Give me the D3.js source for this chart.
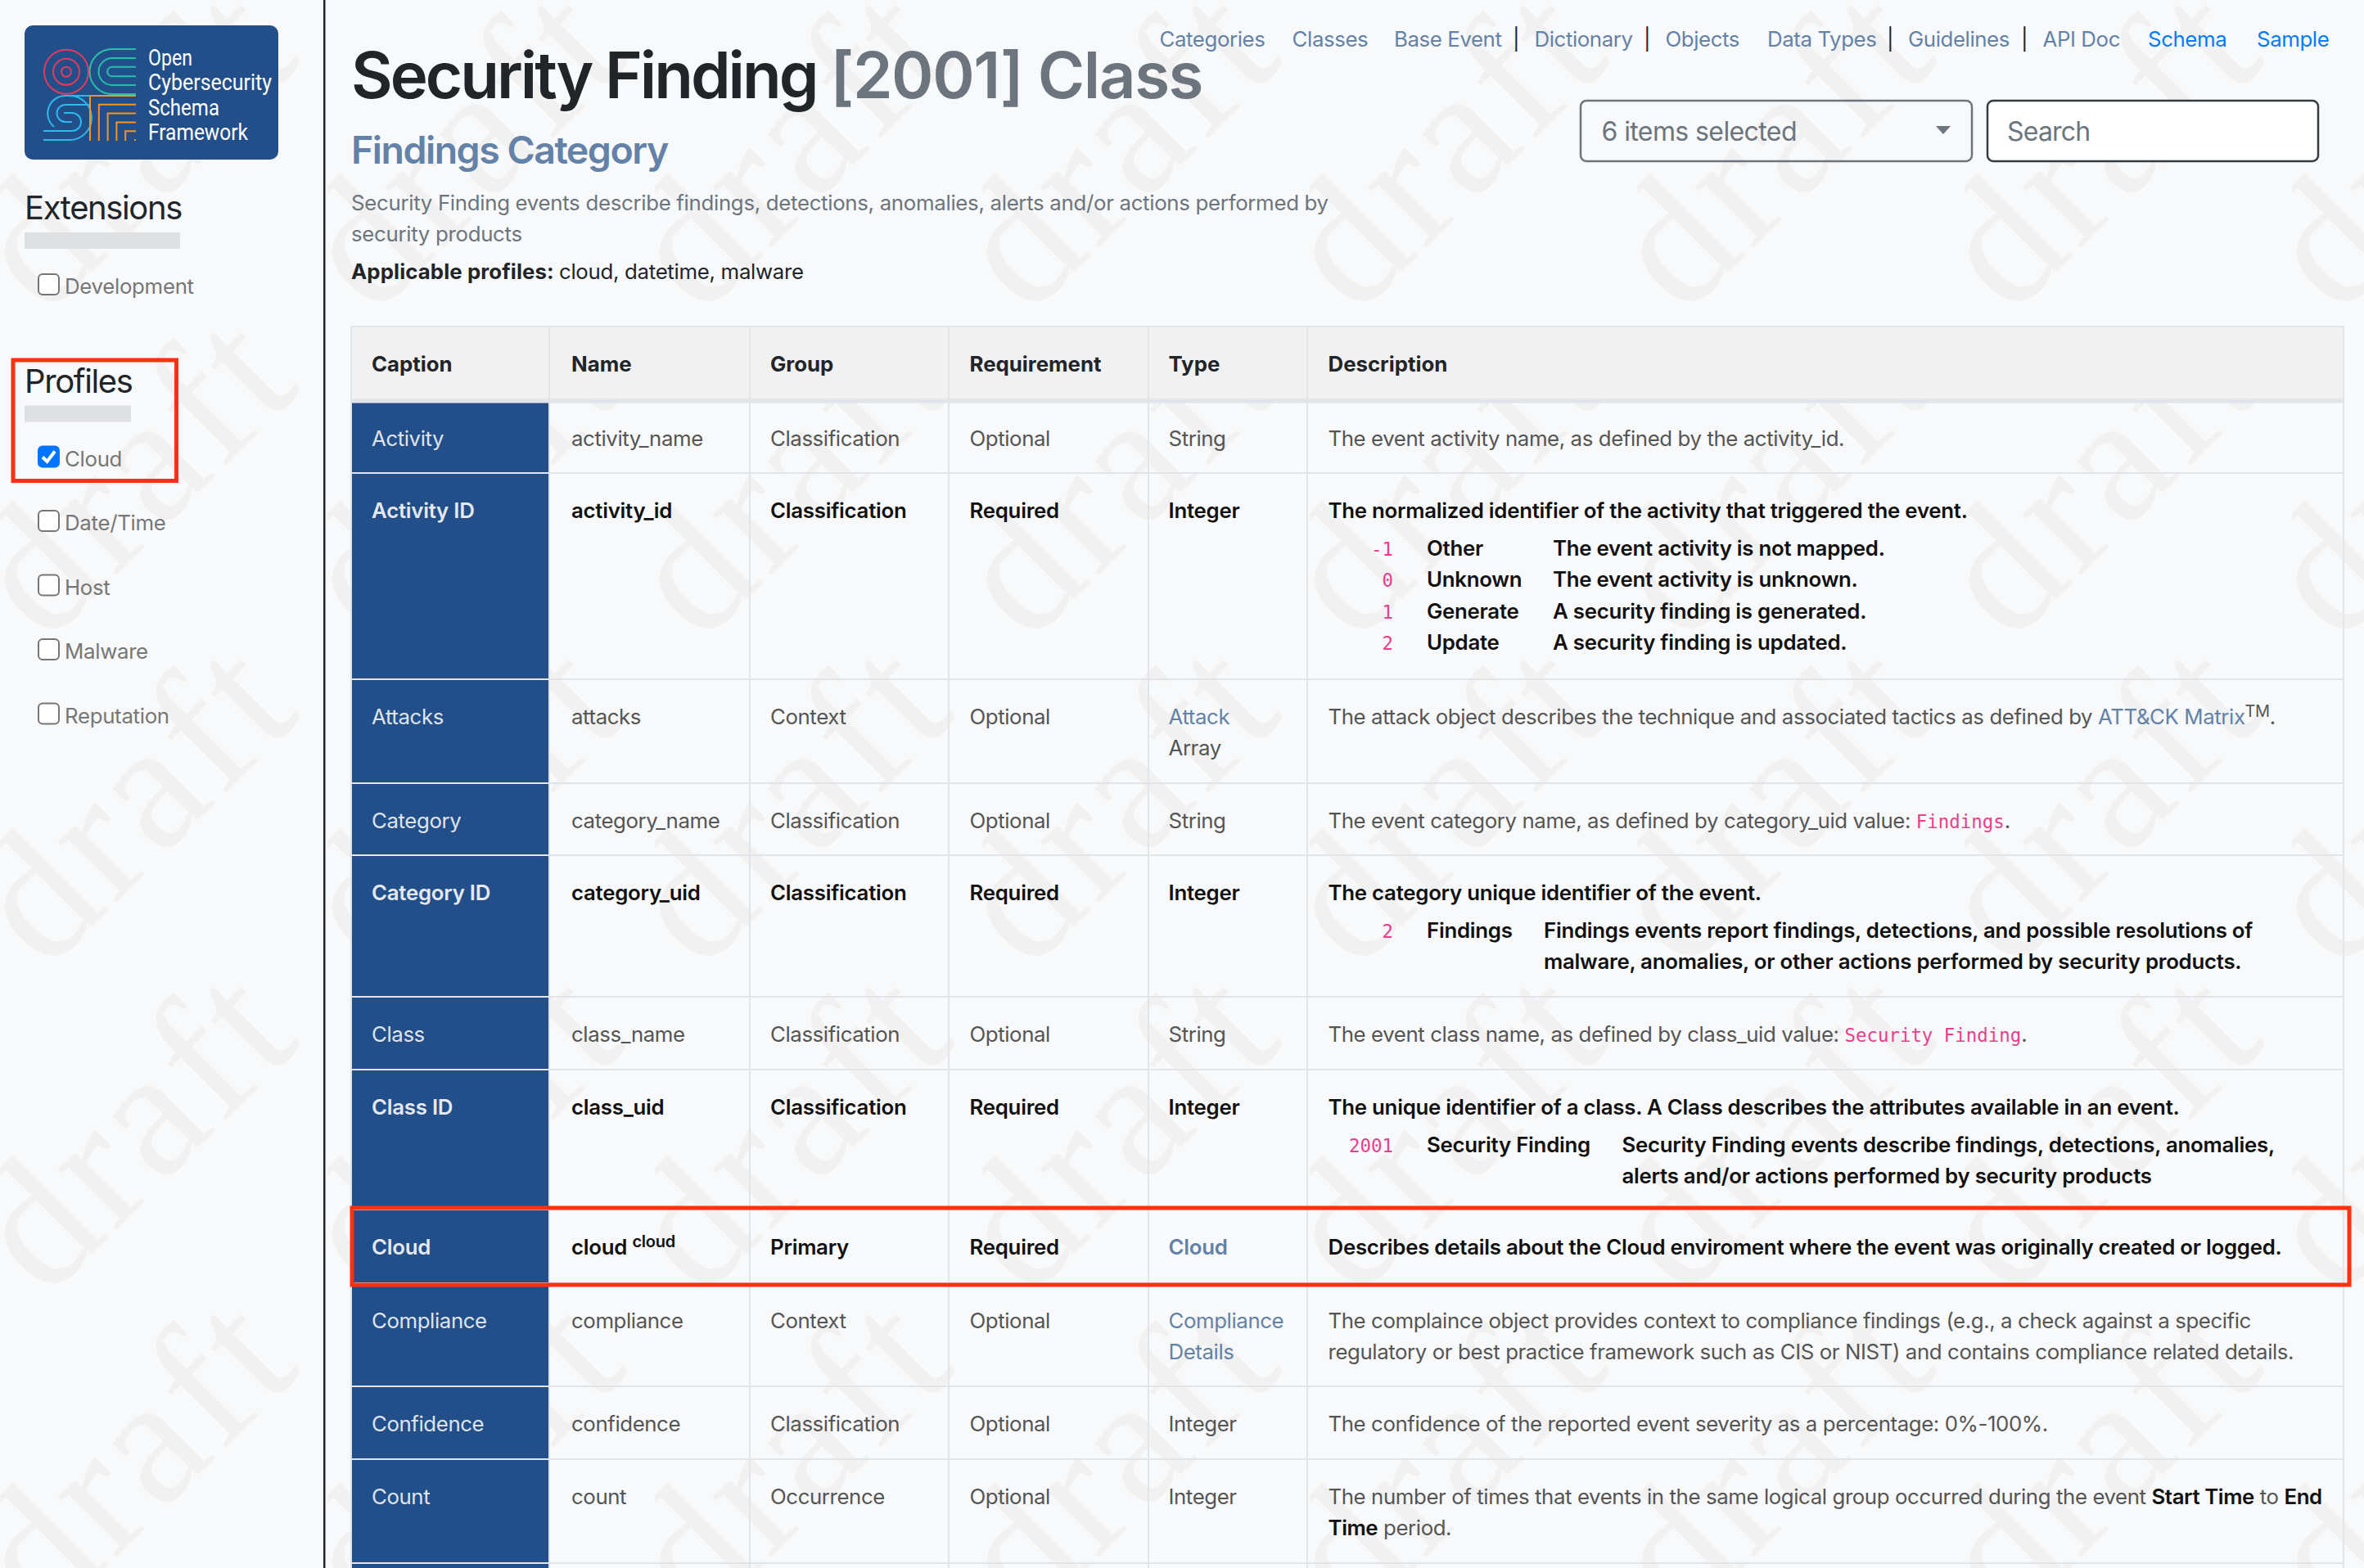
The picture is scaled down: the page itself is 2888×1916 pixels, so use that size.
<!DOCTYPE html>
<html>
<head>
<meta charset="utf-8">
<title>Security Finding [2001] Class</title>
<script src="https://cdn.jsdelivr.net/npm/d3@7"></script>
<style>
    html, body { margin: 0; padding: 0; background: #f8f9fa; overflow: hidden; }
    svg { display: block; font-family: Inter, "Noto Sans", sans-serif; }
    .cell { font-size: 25.8px; letter-spacing: -0.4px; }
    .opt { fill: #555; }
    .req { fill: #111; font-weight: 600; letter-spacing: -0.25px; }
    .cap { fill: #dfe4ec; }
    .cap.bold { fill: #e4e8ef; font-weight: 600; letter-spacing: -0.25px; }
    .head { fill: #212529; font-weight: 700; letter-spacing: 0; }
    .link { fill: #6482a8; }
    .code { fill: #e83e8c; font-family: "DejaVu Sans Mono", monospace; font-size: 22.4px; font-weight: 400; letter-spacing: 0; }
    .strong { fill: #111; font-weight: 600; }
    .sup { font-size: 20px; }
    .nav { font-size: 25.8px; fill: #6482a8; letter-spacing: -0.4px; }
    .nav.active { fill: #007bff; }
    .side { font-size: 25.8px; fill: #777; letter-spacing: -0.3px; }
    .sideHead { font-size: 40px; fill: #212529; letter-spacing: -1.4px; }
</style>
</head>
<body>
<div id="container"></div>
<script>
const headers = ['Caption', 'Name', 'Group', 'Requirement', 'Type', 'Description']
const captions = ['Activity', 'Activity ID', 'Attacks', 'Category', 'Category ID', 'Class', 'Class ID', 'Cloud', 'Compliance', 'Confidence', 'Count']
const names = ['activity_name', 'activity_id', 'attacks', 'category_name', 'category_uid', 'class_name', 'class_uid', 'cloud ^cloud^', 'compliance', 'confidence', 'count']
const groups = ['Classification', 'Classification', 'Context', 'Classification', 'Classification', 'Classification', 'Classification', 'Primary', 'Context', 'Classification', 'Occurrence']
const requirements = ['Optional', 'Required', 'Optional', 'Optional', 'Required', 'Optional', 'Required', 'Required', 'Optional', 'Optional', 'Optional']
const types = ['String', 'Integer', '[Attack]\nArray', 'String', 'Integer', 'String', 'Integer', '[Cloud]', '[Compliance]\n[Details]', 'Integer', 'Integer']
const descriptions = [
    'The event activity name, as defined by the activity_id.',
    'The normalized identifier of the activity that triggered the event.',
    'The attack object describes the technique and associated tactics as defined by [ATT&CK Matrix]^TM^.',
    'The event category name, as defined by category_uid value: `Findings`.',
    'The category unique identifier of the event.',
    'The event class name, as defined by class_uid value: `Security Finding`.',
    'The unique identifier of a class. A Class describes the attributes available in an event.',
    'Describes details about the Cloud enviroment where the event was originally created or logged.',
    'The complaince object provides context to compliance findings (e.g., a check against a specific\nregulatory or best practice framework such as CIS or NIST) and contains compliance related details.',
    'The confidence of the reported event severity as a percentage: 0%-100%.',
    'The number of times that events in the same logical group occurred during the event *Start Time* to *End*\n*Time* period.'
]

const activityEnums = [
    ['-1', 'Other', 'The event activity is not mapped.'],
    ['0', 'Unknown', 'The event activity is unknown.'],
    ['1', 'Generate', 'A security finding is generated.'],
    ['2', 'Update', 'A security finding is updated.']
]
const categoryEnums = [
    ['2', 'Findings', 'Findings events report findings, detections, and possible resolutions of\nmalware, anomalies, or other actions performed by security products.']
]
const classEnums = [
    ['2001', 'Security Finding', 'Security Finding events describe findings, detections, anomalies,\nalerts and/or actions performed by security products']
]

const navLinks = ['Categories', 'Classes', 'Base Event', '|', 'Dictionary', '|', 'Objects', 'Data Types', '|', 'Guidelines', '|', 'API Doc', 'Schema', 'Sample']
const extensions = ['Development']
const profiles = ['Cloud', 'Date/Time', 'Host', 'Malware', 'Reputation']
const logoWords = ['Open', 'Cybersecurity', 'Schema', 'Framework']

// layout
const width = 2888
const height = 1916
const colEdges = [429, 671, 916, 1159, 1403, 1597, 2863]
const textEdges = [454, 698, 941, 1184.5, 1427.5, 1622.5]
const rowEdges = [490, 578, 830, 957, 1045, 1218, 1307, 1478, 1568, 1694, 1783, 1910]
const navX = [1416.5, 1578.6, 1703, 1848, 1874.5, 2008, 2034.5, 2159, 2305, 2331, 2469, 2495.5, 2624, 2757]

const xCol = d3.scaleOrdinal().domain(headers).range(textEdges)
const yRow = d3.scaleOrdinal().domain(captions).range(rowEdges)
const rowBottom = d3.scaleOrdinal().domain(captions).range(rowEdges.slice(1))
const lineH = 38.2
const enumLine = 38.5

const svg = d3.select('#container').append('svg')
    .attr('width', width)
    .attr('height', height)

// watermark tile
const pattern = svg.append('defs').append('pattern')
    .attr('id', 'draft')
    .attr('patternUnits', 'userSpaceOnUse')
    .attr('width', 400)
    .attr('height', 400)
pattern.append('text')
    .attr('transform', 'translate(215,229.5) rotate(-45)')
    .attr('text-anchor', 'middle')
    .attr('font-family', '"Liberation Serif", serif')
    .attr('font-size', 222)
    .attr('letter-spacing', 6)
    .attr('fill', '#f1f1f1')
    .text('draft')

svg.append('rect').attr('width', width).attr('height', height).attr('fill', '#f8f9fa')
svg.append('rect').attr('width', width).attr('height', height).attr('fill', 'url(#draft)')

// writes a string with the small inline marks as tspans
function inline(text, str) {
    const parts = str.split(/(`[^`]+`|\*[^*]+\*|\[[^\]]+\]|\^[^^]+\^)/).filter(p => p !== '')
    let afterSup = 0
    parts.forEach(p => {
        const t = text.append('tspan').attr('xml:space', 'preserve').style('white-space', 'pre')
        if (afterSup) {
            t.attr('dy', afterSup)
            afterSup = 0
        }
        if (p[0] === '`') t.attr('class', 'code').text(p.slice(1, -1))
        else if (p[0] === '*') t.attr('class', 'strong').text(p.slice(1, -1))
        else if (p[0] === '[') t.attr('class', 'link').text(p.slice(1, -1))
        else if (p[0] === '^') {
            t.attr('class', 'sup').attr('dy', -9).text(p.slice(1, -1))
            afterSup = 9
        }
        else t.text(p)
    })
}

function cellText(x, y, str, cls, step) {
    str.split('\n').forEach((line, i) => {
        const t = svg.append('text')
            .attr('class', 'cell ' + cls)
            .attr('x', x)
            .attr('y', y + i * (step || lineH))
        inline(t, line)
    })
}

// ---------- sidebar ----------
const logo = svg.append('g')
logo.append('rect').attr('x', 30).attr('y', 31).attr('width', 310).attr('height', 164).attr('rx', 10).attr('fill', '#224e8a')
const logoLines = logo.append('g').attr('fill', 'none').attr('stroke-width', 2)
logoLines.selectAll('circle').data([27, 16, 6]).enter().append('circle')
    .attr('cx', 81).attr('cy', 87.7).attr('r', d => d).attr('stroke', '#e63a5a')
logoLines.selectAll('path.teal').data([27.5, 16.5, 5.8]).enter().append('path')
    .attr('class', 'teal').attr('stroke', '#26c0a8')
    .attr('d', r => `M166 ${87.5 - r}H137A${r} ${r} 0 0 0 137 ${87.5 + r}H166`)
logoLines.selectAll('path.blue').data([
    'M110 117H81A21.5 21.5 0 0 0 66 155',
    'M53 160H88A11 11 0 0 0 88 138H78',
    'M53 171H85A27 27 0 0 0 85 117',
    'M110 128H80A10.5 10.5 0 0 0 80 149H88'
]).enter().append('path').attr('class', 'blue').attr('stroke', '#2bb9ee').attr('d', d => d)
logoLines.selectAll('path.orange').data([0, 1, 2, 3, 4]).enter().append('path')
    .attr('class', 'orange').attr('stroke', '#f7941d')
    .attr('d', i => `M${110 + i * 10.8} 172V${117 + i * 10.8}H166`)
logoLines.append('path').attr('stroke', '#f7941d').attr('d', 'M164 171H166')
const logoWidths = [54, 151, 87, 122]
logo.selectAll('text').data(logoWords).enter().append('text')
    .attr('x', 181)
    .attr('y', (d, i) => 80 + i * 30.3)
    .attr('textLength', (d, i) => logoWidths[i])
    .attr('lengthAdjust', 'spacingAndGlyphs')
    .attr('font-family', 'Roboto')
    .attr('font-size', 27.5)
    .attr('fill', '#fff')
    .text(d => d)

svg.append('rect').attr('x', 395).attr('y', 0).attr('width', 2.5).attr('height', height).attr('fill', '#23252e')

function sideGroup(title, baseY, barW, items, startY) {
    svg.append('text').attr('class', 'sideHead').attr('x', 30).attr('y', baseY).text(title)
    svg.append('rect').attr('x', 30).attr('y', baseY + 16).attr('width', barW).attr('height', 20).attr('fill', '#dfe0e2')
    items.forEach((d, i) => {
        const y = startY + i * 78.5
        const checked = d === 'Cloud'
        svg.append('rect').attr('x', 47).attr('y', y - 24).attr('width', 25).attr('height', 25).attr('rx', 5)
            .attr('fill', checked ? '#0075ff' : '#fff')
            .attr('stroke', checked ? '#0075ff' : '#767676')
            .attr('stroke-width', 2)
        if (checked) {
            svg.append('path').attr('d', `M52 ${y - 11}L57.5 ${y - 5.5}L67 ${y - 18}`)
                .attr('fill', 'none').attr('stroke', '#fff').attr('stroke-width', 4)
        }
        svg.append('text').attr('class', 'side').attr('x', 79).attr('y', y).text(d)
    })
}
sideGroup('Extensions', 268, 190, extensions, 359)
sideGroup('Profiles', 479.5, 130, profiles, 569.5)

// ---------- heading ----------
const title = svg.append('text').attr('x', 429).attr('y', 119.5)
    .attr('font-size', 78).attr('font-weight', 600).attr('fill', '#212529')
title.append('tspan').attr('letter-spacing', -3).text('Security Finding ')
title.append('tspan').attr('letter-spacing', -1.4).attr('fill', '#6c757d').text('[2001] Class')

svg.append('text').attr('x', 429).attr('y', 199.5)
    .attr('font-size', 46.5).attr('font-weight', 600).attr('letter-spacing', -1.5).attr('fill', '#6482a8')
    .text('Findings Category')

const para = ['Security Finding events describe findings, detections, anomalies, alerts and/or actions performed by', 'security products']
svg.selectAll('text.para').data(para).enter().append('text')
    .attr('class', 'para cell')
    .attr('x', 429)
    .attr('y', (d, i) => 257 + i * 38)
    .attr('fill', '#6c757d')
    .style('letter-spacing', '-0.3px')
    .text(d => d)

const applicable = svg.append('text').attr('class', 'cell').attr('x', 429).attr('y', 341).attr('fill', '#212529')
applicable.append('tspan').attr('font-weight', 700).style('letter-spacing', '0.1px').text('Applicable profiles: ')
applicable.append('tspan').style('letter-spacing', '-0.3px').text('cloud, datetime, malware')

svg.selectAll('text.nav').data(navLinks).enter().append('text')
    .attr('class', d => 'nav' + (d === 'Schema' || d === 'Sample' ? ' active' : ''))
    .attr('x', (d, i) => navX[i])
    .attr('y', 56.5)
    .style('fill', d => d === '|' ? '#212529' : null)
    .text(d => d)

// select and search boxes
svg.append('rect').attr('x', 1931).attr('y', 123).attr('width', 478).attr('height', 74).attr('rx', 7)
    .attr('fill', 'none').attr('stroke', '#6c757d').attr('stroke-width', 2.5)
svg.append('text').attr('x', 1956.5).attr('y', 172).attr('font-size', 32).attr('letter-spacing', -0.6).attr('fill', '#6c757d').text('6 items selected')
svg.append('path').attr('d', 'M2365 154H2383L2374 164Z').attr('fill', '#6c757d')
svg.append('rect').attr('x', 2428).attr('y', 123).attr('width', 404).attr('height', 74).attr('rx', 7)
    .attr('fill', '#fff').attr('stroke', '#343a40').attr('stroke-width', 2.5)
svg.append('text').attr('x', 2452).attr('y', 172).attr('font-size', 32).attr('letter-spacing', -0.8).attr('fill', '#6c757d').text('Search')

// ---------- table ----------
svg.append('rect').attr('x', colEdges[0]).attr('y', 400).attr('width', colEdges[6] - colEdges[0]).attr('height', 90)
    .attr('fill', '#f0f0f0').attr('opacity', 0.96)

// caption column, the stub at the bottom is the next row peeking in
svg.selectAll('rect.capCell').data(captions).enter().append('rect')
    .attr('class', 'capCell')
    .attr('x', colEdges[0])
    .attr('y', d => yRow(d))
    .attr('width', colEdges[1] - colEdges[0])
    .attr('height', d => rowBottom(d) - yRow(d))
    .attr('fill', '#224e8a')
svg.append('rect').attr('x', colEdges[0]).attr('y', 1910).attr('width', colEdges[1] - colEdges[0]).attr('height', 6).attr('fill', '#224e8a')

// grid
svg.selectAll('line.v').data(colEdges).enter().append('line')
    .attr('class', 'v')
    .attr('x1', d => d).attr('x2', d => d)
    .attr('y1', 399).attr('y2', height)
    .attr('stroke', '#e1e4e8').attr('stroke-width', 2)
svg.selectAll('line.h').data([399].concat(rowEdges)).enter().append('line')
    .attr('class', 'h')
    .attr('x1', colEdges[0]).attr('x2', colEdges[6])
    .attr('y1', d => d).attr('y2', d => d)
    .attr('stroke', '#e1e4e8')
    .attr('stroke-width', d => d === 490 ? 5 : 2)

headers.forEach(h => {
    svg.append('text').attr('class', 'cell head').attr('x', xCol(h)).attr('y', 454).text(h)
})

captions.forEach((c, i) => {
    const base = yRow(c) + 55
    const req = requirements[i] === 'Required'
    const cls = req ? 'req' : 'opt'
    cellText(xCol('Caption'), base, c, req ? 'cap bold' : 'cap')
    cellText(xCol('Name'), base, names[i], cls)
    cellText(xCol('Group'), base, groups[i], cls)
    cellText(xCol('Requirement'), base, requirements[i], cls)
    cellText(xCol('Type'), base, types[i], cls)
    cellText(xCol('Description'), base, descriptions[i], cls)
})

function enumRows(caption, rows, descX) {
    let y = yRow(caption) + 100.5
    rows.forEach(r => {
        svg.append('text').attr('class', 'cell code').attr('x', 1702).attr('y', y).attr('text-anchor', 'end').text(r[0])
        cellText(1743, y, r[1], 'req')
        cellText(descX, y, r[2], 'req', enumLine)
        y += r[2].split('\n').length * enumLine
    })
}
enumRows('Activity ID', activityEnums, 1897)
enumRows('Category ID', categoryEnums, 1886)
enumRows('Class ID', classEnums, 1981.5)

// ---------- red annotation boxes ----------
svg.append('rect').attr('x', 16).attr('y', 440).attr('width', 199.5).attr('height', 147.5)
    .attr('fill', 'none').attr('stroke', '#ff2f0f').attr('stroke-width', 5)
svg.append('rect').attr('x', 430).attr('y', 1476).attr('width', 2440).attr('height', 94)
    .attr('fill', 'none').attr('stroke', '#ff2f0f').attr('stroke-width', 5)
</script>
</body>
</html>
